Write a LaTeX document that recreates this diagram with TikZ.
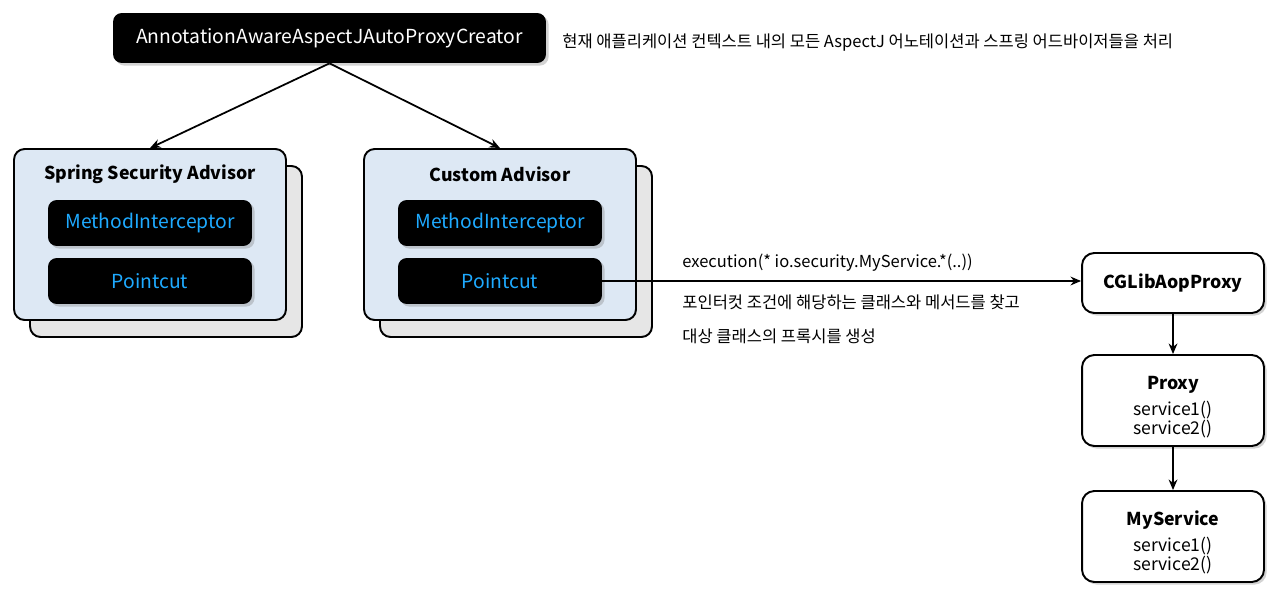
\documentclass[tikz,border=0pt]{standalone}
\usepackage{fontspec}
\setmainfont{Noto Sans CJK KR}
\usetikzlibrary{arrows.meta,shadows}
\definecolor{advfill}{RGB}{221,232,244}
\definecolor{backfill}{RGB}{230,230,230}
\definecolor{pcblue}{RGB}{30,170,255}
\tikzset{
	shade/.style={drop shadow={shadow xshift=1.5pt, shadow yshift=-1.5pt, opacity=0.35}},
	blackbox/.style={rounded corners=5pt, fill=black, text=white, inner sep=0pt, shade, font=\fontsize{11}{13}\selectfont},
	innerbox/.style={blackbox, text=pcblue, minimum width=4.08cm, minimum height=0.92cm},
	advbox/.style={rounded corners=6pt, draw, line width=1.1pt, fill=advfill, minimum width=5.44cm, minimum height=3.42cm, inner sep=0pt},
	advback/.style={advbox, fill=backfill},
	title/.style={font=\fontsize{10.1}{12}\selectfont\bfseries},
	whitebox/.style={rounded corners=7pt, draw, line width=1.1pt, fill=white, minimum width=3.64cm, inner sep=0pt, align=center, shade},
	note/.style={anchor=west, inner sep=0pt, font=\fontsize{9.4}{11}\selectfont},
	arr/.style={line width=1pt, -{Stealth[length=6pt, width=5pt]}}
}
\newcommand\svc[1]{{\fontsize{10}{11}\selectfont #1}}
\newcommand\head[1]{\rule{0pt}{15pt}{\fontsize{10.1}{12}\selectfont\bfseries #1}}
\begin{document}
\begin{tikzpicture}[x=0.02cm, y=-0.02cm]
	\useasboundingbox (0,0) rectangle (1280,588);

	% creator
	\node[blackbox, minimum width=8.66cm, minimum height=1cm] (creator) at (329.5,38) {AnnotationAwareAspectJAutoProxyCreator};
	\node[note] (scope) at (562,43) {현재 애플리케이션 컨텍스트 내의 모든 AspectJ 어노테이션과 스프링 어드바이저들을 처리};

	% advisors
	\node[advback] (secback) at (166,251.5) {};
	\node[advbox] (secadv) at (150,234.5) {};
	\node[title] (sectitle) at (150,174) {Spring Security Advisor};
	\node[innerbox] (secmi) at (150,223) {MethodInterceptor};
	\node[innerbox] (secpc) at (150,281) {Pointcut};

	\node[advback] (cusback) at (516,251.5) {};
	\node[advbox] (cusadv) at (500,234.5) {};
	\node[title] (custitle) at (500,174) {Custom Advisor};
	\node[innerbox] (cusmi) at (500,223) {MethodInterceptor};
	\node[innerbox] (cuspc) at (500,281) {Pointcut};

	\draw[arr] (creator.south) -- (secadv.north);
	\draw[arr] (creator.south) -- (cusadv.north);

	% proxy side
	\node[whitebox, minimum height=1.2cm, title] (cglib) at (1173,283) {CGLibAopProxy};
	\node[whitebox, minimum height=1.82cm] (proxy) at (1173,400.5) {\head{Proxy}\\[3pt] \svc{service1()}\\[-1pt] \svc{service2()}};
	\node[whitebox, minimum height=1.82cm] (mysvc) at (1173,536.5) {\head{MyService}\\[3pt] \svc{service1()}\\[-1pt] \svc{service2()}};

	\draw[arr] (cuspc.east) -- (cuspc.east -| cglib.west);
	\node[note] (expr) at (682,263) {execution(* io.security.MyService.*(..))};
	\node[note] (desc1) at (682,302) {포인터컷 조건에 해당하는 클래스와 메서드를 찾고};
	\node[note] (desc2) at (682,336) {대상 클래스의 프록시를 생성};

	\draw[arr] (cglib) -- (proxy);
	\draw[arr] (proxy) -- (mysvc);
\end{tikzpicture}
\end{document}
